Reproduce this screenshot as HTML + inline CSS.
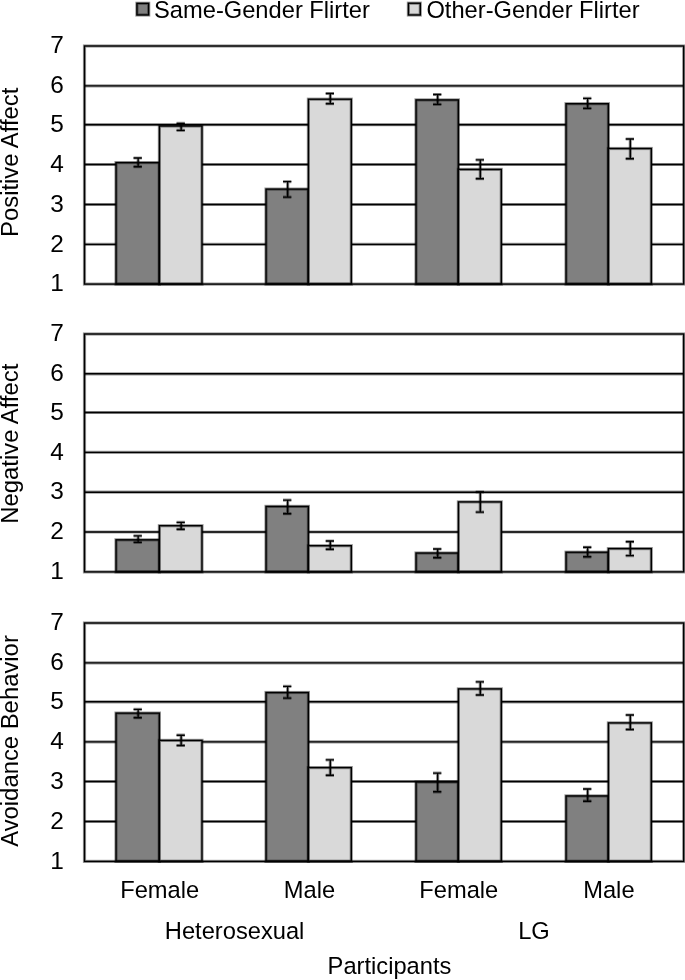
<!DOCTYPE html>
<html><head><meta charset="utf-8"><title>Chart</title>
<style>
html,body{margin:0;padding:0;background:#fff;}
body{width:685px;height:980px;overflow:hidden;}
svg{display:block;}
text{font-family:"Liberation Sans",Arial,sans-serif;fill:#000;}
.t{font-size:24.4px;text-anchor:end;}
.yt{font-size:23.85px;text-anchor:middle;}
.xl{font-size:23.7px;text-anchor:middle;}
.lg{font-size:23.7px;}
.h{fill:none;stroke:#000;stroke-opacity:0.4;stroke-width:3.2;}
.c{fill:none;stroke:#000;stroke-width:1.4;}
.d{fill:#808080;}
.l{fill:#d9d9d9;}
</style></head>
<body>
<svg width="685" height="980" viewBox="0 0 685 980">
<rect x="136.9" y="3.3" width="11.8" height="11.7" class="d"/>
<rect x="136.9" y="3.3" width="11.8" height="11.7" class="h"/>
<rect x="136.9" y="3.3" width="11.8" height="11.7" class="c"/>
<text x="154" y="18.1" class="lg">Same-Gender Flirter</text>
<rect x="408.4" y="3.2" width="11.9" height="11.8" class="l"/>
<rect x="408.4" y="3.2" width="11.9" height="11.8" class="h"/>
<rect x="408.4" y="3.2" width="11.9" height="11.8" class="c"/>
<text x="426.4" y="18.1" class="lg">Other-Gender Flirter</text>
<path d="M84.5 85.9H683.7M84.5 124.7H683.7M84.5 164.5H683.7M84.5 204.5H683.7M84.5 244.4H683.7" class="h"/>
<path d="M84.5 85.9H683.7M84.5 124.7H683.7M84.5 164.5H683.7M84.5 204.5H683.7M84.5 244.4H683.7" class="c"/>
<text x="63.8" y="53.25" class="t">7</text>
<text x="63.8" y="93.15" class="t">6</text>
<text x="63.8" y="131.95" class="t">5</text>
<text x="63.8" y="171.75" class="t">4</text>
<text x="63.8" y="211.75" class="t">3</text>
<text x="63.8" y="251.65" class="t">2</text>
<text x="63.8" y="291.35" class="t">1</text>
<rect x="116" y="162.6" width="43.4" height="121.5" class="d"/>
<rect x="116" y="162.6" width="43.4" height="121.5" class="h"/>
<rect x="116" y="162.6" width="43.4" height="121.5" class="c"/>
<rect x="159.4" y="126" width="42.6" height="158.1" class="l"/>
<rect x="159.4" y="126" width="42.6" height="158.1" class="h"/>
<rect x="159.4" y="126" width="42.6" height="158.1" class="c"/>
<rect x="266" y="189.1" width="42.4" height="95" class="d"/>
<rect x="266" y="189.1" width="42.4" height="95" class="h"/>
<rect x="266" y="189.1" width="42.4" height="95" class="c"/>
<rect x="308.4" y="99.2" width="42.9" height="184.9" class="l"/>
<rect x="308.4" y="99.2" width="42.9" height="184.9" class="h"/>
<rect x="308.4" y="99.2" width="42.9" height="184.9" class="c"/>
<rect x="416" y="99.9" width="42.4" height="184.2" class="d"/>
<rect x="416" y="99.9" width="42.4" height="184.2" class="h"/>
<rect x="416" y="99.9" width="42.4" height="184.2" class="c"/>
<rect x="458.4" y="169.4" width="42.9" height="114.7" class="l"/>
<rect x="458.4" y="169.4" width="42.9" height="114.7" class="h"/>
<rect x="458.4" y="169.4" width="42.9" height="114.7" class="c"/>
<rect x="566" y="103.7" width="42.4" height="180.4" class="d"/>
<rect x="566" y="103.7" width="42.4" height="180.4" class="h"/>
<rect x="566" y="103.7" width="42.4" height="180.4" class="c"/>
<rect x="608.4" y="148.5" width="42.9" height="135.6" class="l"/>
<rect x="608.4" y="148.5" width="42.9" height="135.6" class="h"/>
<rect x="608.4" y="148.5" width="42.9" height="135.6" class="c"/>
<path d="M138.15 158V166.7M133.55 158H141.85M133.55 166.7H141.85M181.15 123.4V130.4M176.55 123.4H184.85M176.55 130.4H184.85M287.65 181.6V197.1M283.05 181.6H291.35M283.05 197.1H291.35M330.3 93.5V103.7M325.7 93.5H334M325.7 103.7H334M437.65 94.5V104.4M433.05 94.5H441.35M433.05 104.4H441.35M480.3 159.9V178.7M475.7 159.9H484M475.7 178.7H484M587.65 98.4V108.4M583.05 98.4H591.35M583.05 108.4H591.35M630.3 139V158.7M625.7 139H634M625.7 158.7H634" class="h"/>
<path d="M138.15 158V166.7M133.55 158H141.85M133.55 166.7H141.85M181.15 123.4V130.4M176.55 123.4H184.85M176.55 130.4H184.85M287.65 181.6V197.1M283.05 181.6H291.35M283.05 197.1H291.35M330.3 93.5V103.7M325.7 93.5H334M325.7 103.7H334M437.65 94.5V104.4M433.05 94.5H441.35M433.05 104.4H441.35M480.3 159.9V178.7M475.7 159.9H484M475.7 178.7H484M587.65 98.4V108.4M583.05 98.4H591.35M583.05 108.4H591.35M630.3 139V158.7M625.7 139H634M625.7 158.7H634" class="c"/>
<rect x="84.5" y="46" width="599.2" height="238.1" class="h"/>
<rect x="84.5" y="46" width="599.2" height="238.1" class="c"/>
<text transform="translate(18.2 162.3) rotate(-90)" class="yt">Positive Affect</text>
<path d="M84.5 373.8H683.7M84.5 412.5H683.7M84.5 452.4H683.7M84.5 492.2H683.7M84.5 532H683.7" class="h"/>
<path d="M84.5 373.8H683.7M84.5 412.5H683.7M84.5 452.4H683.7M84.5 492.2H683.7M84.5 532H683.7" class="c"/>
<text x="63.8" y="341.25" class="t">7</text>
<text x="63.8" y="381.05" class="t">6</text>
<text x="63.8" y="419.75" class="t">5</text>
<text x="63.8" y="459.65" class="t">4</text>
<text x="63.8" y="499.45" class="t">3</text>
<text x="63.8" y="539.25" class="t">2</text>
<text x="63.8" y="579.15" class="t">1</text>
<rect x="116" y="539.8" width="43.4" height="32.1" class="d"/>
<rect x="116" y="539.8" width="43.4" height="32.1" class="h"/>
<rect x="116" y="539.8" width="43.4" height="32.1" class="c"/>
<rect x="159.4" y="525.7" width="42.6" height="46.2" class="l"/>
<rect x="159.4" y="525.7" width="42.6" height="46.2" class="h"/>
<rect x="159.4" y="525.7" width="42.6" height="46.2" class="c"/>
<rect x="266" y="506.4" width="42.4" height="65.5" class="d"/>
<rect x="266" y="506.4" width="42.4" height="65.5" class="h"/>
<rect x="266" y="506.4" width="42.4" height="65.5" class="c"/>
<rect x="308.4" y="545.7" width="42.9" height="26.2" class="l"/>
<rect x="308.4" y="545.7" width="42.9" height="26.2" class="h"/>
<rect x="308.4" y="545.7" width="42.9" height="26.2" class="c"/>
<rect x="416" y="553" width="42.4" height="18.9" class="d"/>
<rect x="416" y="553" width="42.4" height="18.9" class="h"/>
<rect x="416" y="553" width="42.4" height="18.9" class="c"/>
<rect x="458.4" y="501.9" width="42.9" height="70" class="l"/>
<rect x="458.4" y="501.9" width="42.9" height="70" class="h"/>
<rect x="458.4" y="501.9" width="42.9" height="70" class="c"/>
<rect x="566" y="552.2" width="42.4" height="19.7" class="d"/>
<rect x="566" y="552.2" width="42.4" height="19.7" class="h"/>
<rect x="566" y="552.2" width="42.4" height="19.7" class="c"/>
<rect x="608.4" y="548.6" width="42.9" height="23.3" class="l"/>
<rect x="608.4" y="548.6" width="42.9" height="23.3" class="h"/>
<rect x="608.4" y="548.6" width="42.9" height="23.3" class="c"/>
<path d="M138.15 535.9V542.4M133.55 535.9H141.85M133.55 542.4H141.85M181.15 522.4V529.3M176.55 522.4H184.85M176.55 529.3H184.85M287.65 500.1V513.7M283.05 500.1H291.35M283.05 513.7H291.35M330.3 541V549.3M325.7 541H334M325.7 549.3H334M437.65 549V557.7M433.05 549H441.35M433.05 557.7H441.35M480.3 492V512.1M475.7 492H484M475.7 512.1H484M587.65 547.3V556.8M583.05 547.3H591.35M583.05 556.8H591.35M630.3 541.7V555.6M625.7 541.7H634M625.7 555.6H634" class="h"/>
<path d="M138.15 535.9V542.4M133.55 535.9H141.85M133.55 542.4H141.85M181.15 522.4V529.3M176.55 522.4H184.85M176.55 529.3H184.85M287.65 500.1V513.7M283.05 500.1H291.35M283.05 513.7H291.35M330.3 541V549.3M325.7 541H334M325.7 549.3H334M437.65 549V557.7M433.05 549H441.35M433.05 557.7H441.35M480.3 492V512.1M475.7 492H484M475.7 512.1H484M587.65 547.3V556.8M583.05 547.3H591.35M583.05 556.8H591.35M630.3 541.7V555.6M625.7 541.7H634M625.7 555.6H634" class="c"/>
<rect x="84.5" y="334" width="599.2" height="237.9" class="h"/>
<rect x="84.5" y="334" width="599.2" height="237.9" class="c"/>
<text transform="translate(18.2 443.7) rotate(-90)" class="yt">Negative Affect</text>
<path d="M84.5 662.9H683.7M84.5 701.8H683.7M84.5 741.9H683.7M84.5 781.5H683.7M84.5 821.5H683.7" class="h"/>
<path d="M84.5 662.9H683.7M84.5 701.8H683.7M84.5 741.9H683.7M84.5 781.5H683.7M84.5 821.5H683.7" class="c"/>
<text x="63.8" y="630.25" class="t">7</text>
<text x="63.8" y="670.15" class="t">6</text>
<text x="63.8" y="709.05" class="t">5</text>
<text x="63.8" y="749.15" class="t">4</text>
<text x="63.8" y="788.75" class="t">3</text>
<text x="63.8" y="828.75" class="t">2</text>
<text x="63.8" y="868.65" class="t">1</text>
<rect x="116" y="713.1" width="43.4" height="148.3" class="d"/>
<rect x="116" y="713.1" width="43.4" height="148.3" class="h"/>
<rect x="116" y="713.1" width="43.4" height="148.3" class="c"/>
<rect x="159.4" y="740.4" width="42.6" height="121" class="l"/>
<rect x="159.4" y="740.4" width="42.6" height="121" class="h"/>
<rect x="159.4" y="740.4" width="42.6" height="121" class="c"/>
<rect x="266" y="692.5" width="42.4" height="168.9" class="d"/>
<rect x="266" y="692.5" width="42.4" height="168.9" class="h"/>
<rect x="266" y="692.5" width="42.4" height="168.9" class="c"/>
<rect x="308.4" y="767.6" width="42.9" height="93.8" class="l"/>
<rect x="308.4" y="767.6" width="42.9" height="93.8" class="h"/>
<rect x="308.4" y="767.6" width="42.9" height="93.8" class="c"/>
<rect x="416" y="782" width="42.4" height="79.4" class="d"/>
<rect x="416" y="782" width="42.4" height="79.4" class="h"/>
<rect x="416" y="782" width="42.4" height="79.4" class="c"/>
<rect x="458.4" y="688.9" width="42.9" height="172.5" class="l"/>
<rect x="458.4" y="688.9" width="42.9" height="172.5" class="h"/>
<rect x="458.4" y="688.9" width="42.9" height="172.5" class="c"/>
<rect x="566" y="795.9" width="42.4" height="65.5" class="d"/>
<rect x="566" y="795.9" width="42.4" height="65.5" class="h"/>
<rect x="566" y="795.9" width="42.4" height="65.5" class="c"/>
<rect x="608.4" y="722.9" width="42.9" height="138.5" class="l"/>
<rect x="608.4" y="722.9" width="42.9" height="138.5" class="h"/>
<rect x="608.4" y="722.9" width="42.9" height="138.5" class="c"/>
<path d="M138.15 709.4V717.7M133.55 709.4H141.85M133.55 717.7H141.85M181.15 735.2V745.5M176.55 735.2H184.85M176.55 745.5H184.85M287.65 686.4V698.1M283.05 686.4H291.35M283.05 698.1H291.35M330.3 759.9V775.3M325.7 759.9H334M325.7 775.3H334M437.65 773.1V791.8M433.05 773.1H441.35M433.05 791.8H441.35M480.3 681.9V695M475.7 681.9H484M475.7 695H484M587.65 789V801.2M583.05 789H591.35M583.05 801.2H591.35M630.3 715V729.5M625.7 715H634M625.7 729.5H634" class="h"/>
<path d="M138.15 709.4V717.7M133.55 709.4H141.85M133.55 717.7H141.85M181.15 735.2V745.5M176.55 735.2H184.85M176.55 745.5H184.85M287.65 686.4V698.1M283.05 686.4H291.35M283.05 698.1H291.35M330.3 759.9V775.3M325.7 759.9H334M325.7 775.3H334M437.65 773.1V791.8M433.05 773.1H441.35M433.05 791.8H441.35M480.3 681.9V695M475.7 681.9H484M475.7 695H484M587.65 789V801.2M583.05 789H591.35M583.05 801.2H591.35M630.3 715V729.5M625.7 715H634M625.7 729.5H634" class="c"/>
<rect x="84.5" y="623" width="599.2" height="238.4" class="h"/>
<rect x="84.5" y="623" width="599.2" height="238.4" class="c"/>
<text transform="translate(18.2 741) rotate(-90)" class="yt">Avoidance Behavior</text>
<text x="159.7" y="897.5" class="xl">Female</text>
<text x="309.5" y="897.5" class="xl">Male</text>
<text x="458.8" y="897.5" class="xl">Female</text>
<text x="608.9" y="897.5" class="xl">Male</text>
<text x="234.6" y="939.2" class="xl">Heterosexual</text>
<text x="534" y="939.2" class="xl">LG</text>
<text x="389.5" y="974.1" class="xl">Participants</text>
</svg>
</body></html>
